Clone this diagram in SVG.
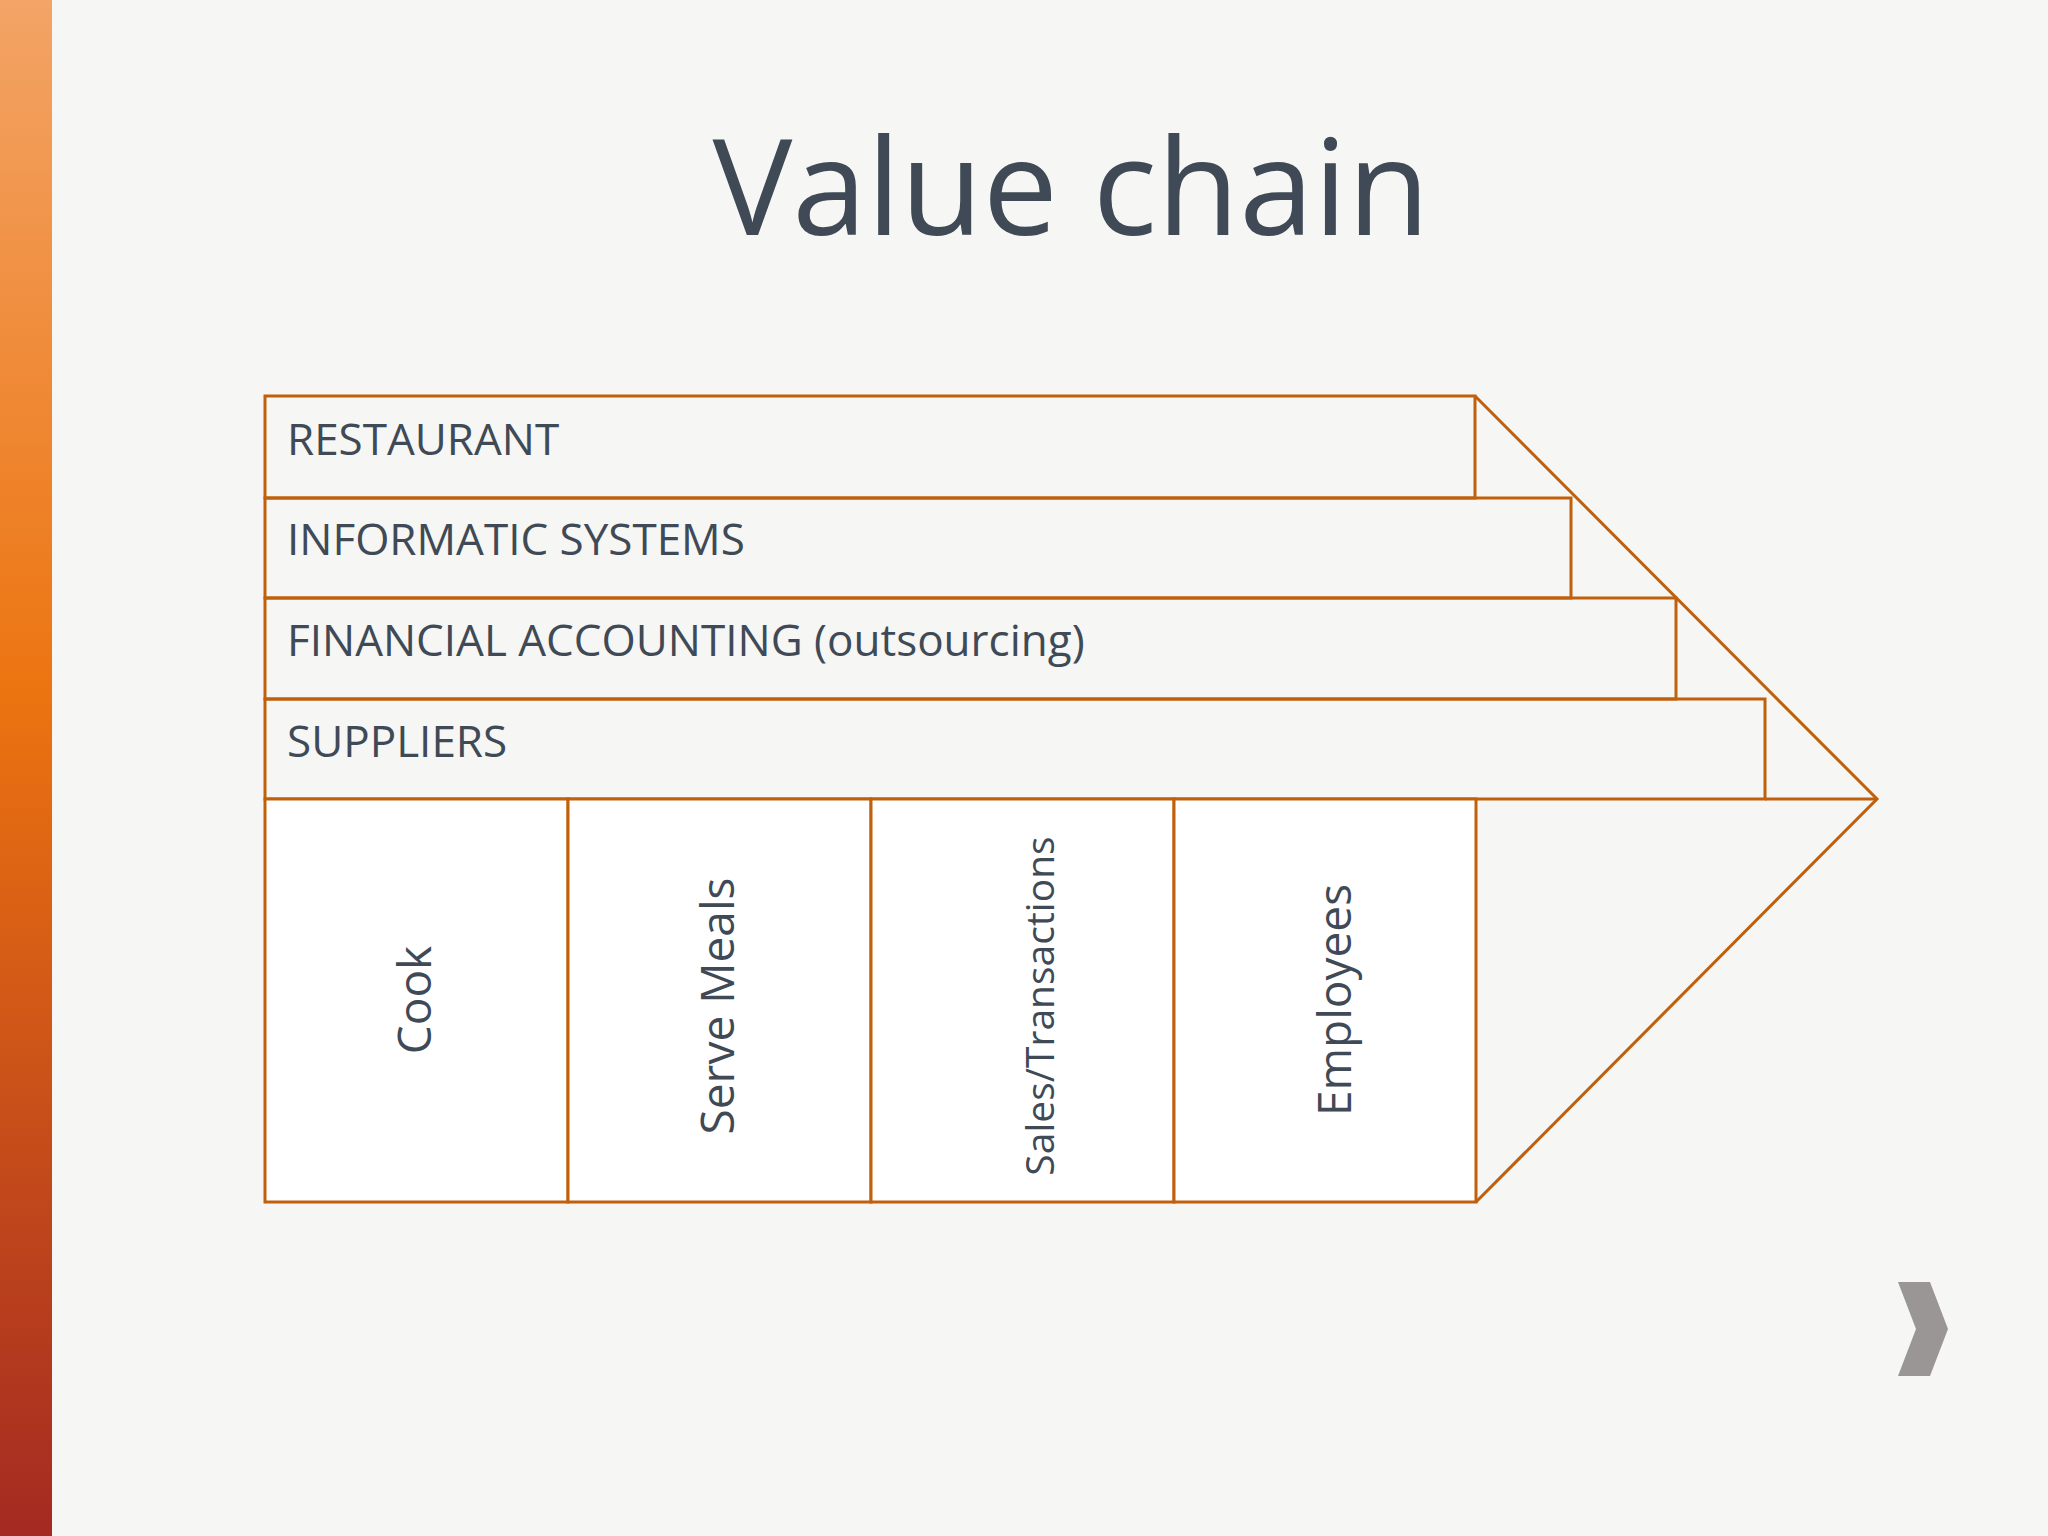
<svg xmlns="http://www.w3.org/2000/svg" width="2048" height="1536" viewBox="0 0 2048 1536">
<defs>
<linearGradient id="bar" x1="0" y1="0" x2="0" y2="1">
<stop offset="0" stop-color="#f3a466"/><stop offset="0.45" stop-color="#ec7410"/><stop offset="1" stop-color="#a42a22"/>
</linearGradient>
<style>
.o{fill:none;stroke:#c0600c;stroke-width:3}
.b{fill:#fff;stroke:#c0600c;stroke-width:3}
.t{font-family:"Open Sans","Liberation Sans",sans-serif;fill:#3f4a56}
.r{font-size:44px}
.v{font-size:46px;text-anchor:middle}
</style>
</defs>
<rect width="2048" height="1536" fill="#f6f6f4"/>
<rect width="52" height="1536" fill="url(#bar)"/>
<text x="1071" y="235" class="t" font-size="134" text-anchor="middle" fill="#4a5866">Value chain</text>
<g id="connectors">
<path class="o" d="M1475,396 L1877,799 L1476,1202"/>
</g>
<g id="restaurant"><rect class="o" x="265" y="396" width="1210" height="102"/><text class="t r" x="287" y="455">RESTAURANT</text></g>
<g id="informatic"><rect class="o" x="265" y="498" width="1306" height="100"/><text class="t r" x="287" y="555">INFORMATIC SYSTEMS</text></g>
<g id="financial"><rect class="o" x="265" y="598" width="1411" height="101"/><text class="t r" x="287" y="656">FINANCIAL ACCOUNTING (outsourcing)</text></g>
<g id="suppliers"><rect class="o" x="265" y="699" width="1500" height="100"/><text class="t r" x="287" y="757">SUPPLIERS</text></g>
<line class="o" x1="1765" y1="799" x2="1877" y2="799"/>
<g id="cook"><rect class="b" x="265" y="799" width="303" height="403"/><text class="t v" transform="translate(431,1000) rotate(-90)">Cook</text></g>
<g id="serve"><rect class="b" x="568" y="799" width="303" height="403"/><text class="t v" transform="translate(734,1006) rotate(-90)">Serve Meals</text></g>
<g id="sales"><rect class="b" x="871" y="799" width="303" height="403"/><text class="t v" transform="translate(1054,1006) rotate(-90)" style="font-size:39px">Sales/Transactions</text></g>
<g id="employees"><rect class="b" x="1174" y="799" width="302" height="403"/><text class="t v" transform="translate(1351,1000) rotate(-90)">Employees</text></g>
<path d="M1898,1282 L1930,1282 L1948,1329 L1930,1376 L1898,1376 L1916,1329 Z" fill="#9a9696"/>
</svg>
